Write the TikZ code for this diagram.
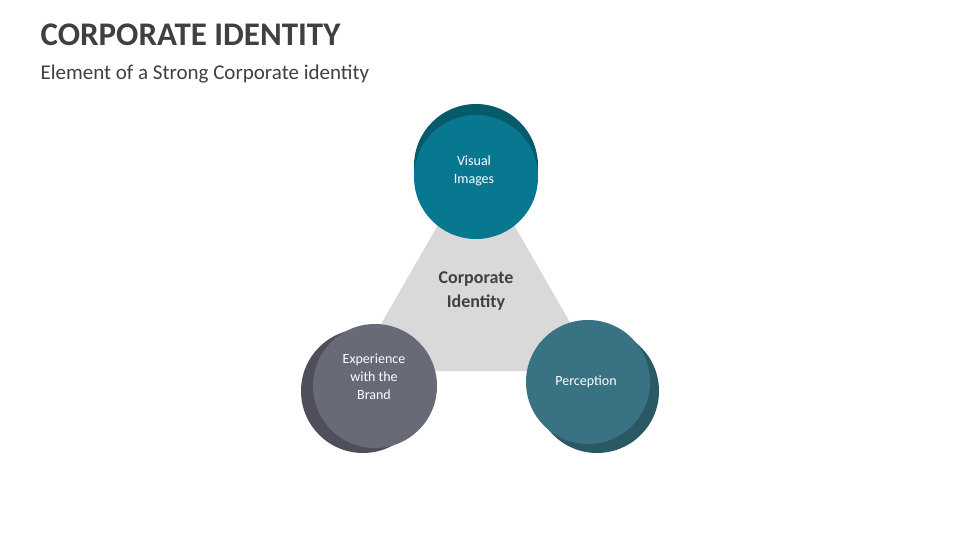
\documentclass[tikz,border=0pt]{standalone}
\usepackage{fontspec}
\setmainfont{Carlito}
\definecolor{tfront}{HTML}{087890}\definecolor{tback}{HTML}{065B6B}
\definecolor{lfront}{HTML}{686A78}\definecolor{lback}{HTML}{4E4F5A}
\definecolor{rfront}{HTML}{387283}\definecolor{rback}{HTML}{2A5864}
\definecolor{tri}{HTML}{D9D9D9}\definecolor{ink}{HTML}{404040}
\begin{document}
\begin{tikzpicture}[x=1pt,y=-1pt,
  lbl/.style={text=white,align=center,font=\fontsize{14}{18}\selectfont}]
\useasboundingbox[fill=white] (0,0) rectangle (960,540);
\node[anchor=west,text=ink,font=\bfseries\fontsize{33}{36}\selectfont] (title) at (37,35) {CORPORATE IDENTITY};
\node[anchor=west,text=ink,font=\fontsize{21}{24}\selectfont] (sub) at (37,74) {Element of a Strong Corporate identity};
\fill[tri] (476,159) -- (354,371) -- (598,371) -- cycle;
\node[text=ink,align=center,font=\bfseries\fontsize{18}{24}\selectfont] (ci) at (476,291) {Corporate\\Identity};
\fill[tback] (476,166) circle (62);
\fill[tfront] (476,177) circle (62);
\node[lbl] (vi) at (474,171) {Visual\\Images};
\fill[lback] (363,391) circle (62);
\fill[lfront] (375,386) circle (62);
\node[lbl] (ex) at (374,377) {Experience\\with the\\Brand};
\fill[rback] (597,391) circle (62);
\fill[rfront] (588,382) circle (62);
\node[lbl] (pe) at (586,382) {Perception};
\end{tikzpicture}
\end{document}
